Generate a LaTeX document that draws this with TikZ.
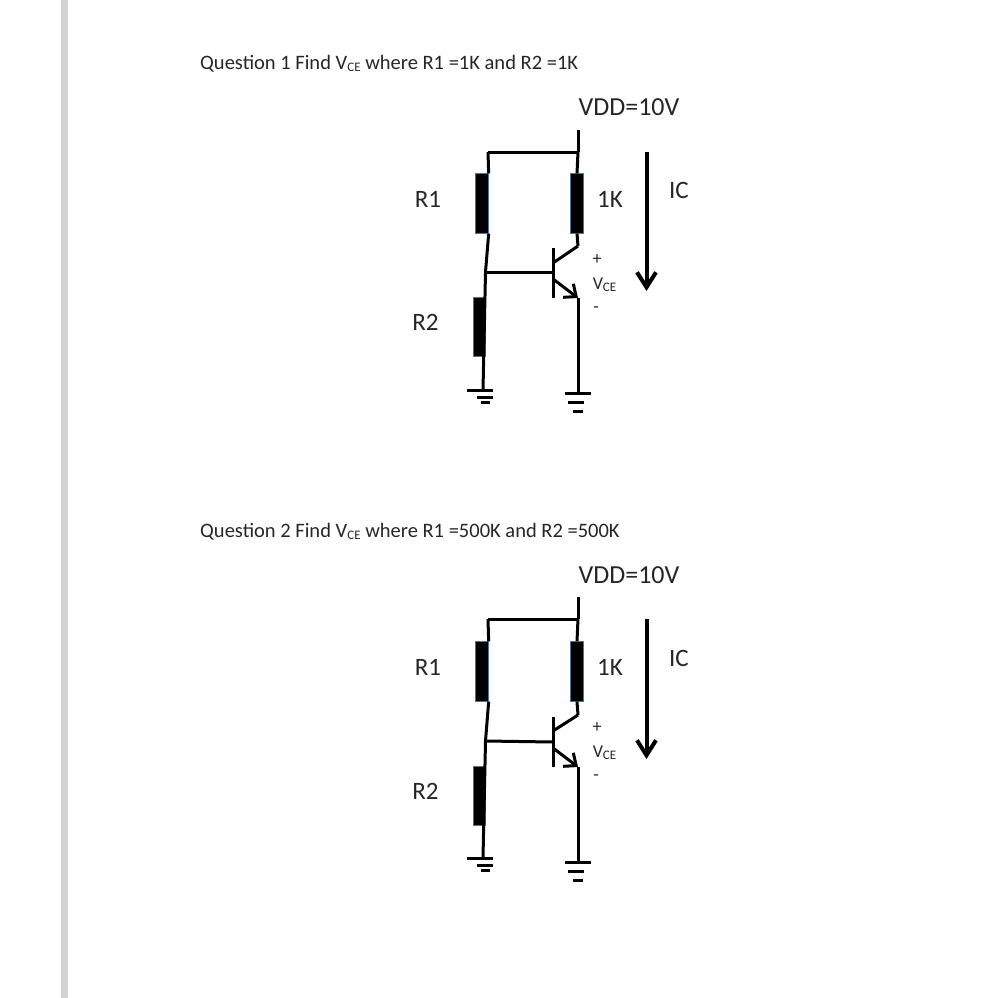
\documentclass[tikz,border=0pt]{standalone}
\usepackage{fontspec}
\setmainfont{Carlito}
\usetikzlibrary{arrows.meta,positioning}

\definecolor{resedge}{HTML}{4F7396}
\definecolor{pageedge}{HTML}{D2D2D2}

\newcommand{\vcebig}{V\raisebox{-0.12em}{\fontsize{13}{13}\selectfont CE}}
\newcommand{\vcesmall}{V\raisebox{-0.12em}{\fontsize{13}{13}\selectfont CE}}

\tikzset{
    wire/.style={line width=3pt,black},
    resbox/.style={draw=resedge,fill=black,line width=0.8pt,minimum width=12.5pt,minimum height=59.5pt,inner sep=0pt},
    question/.style={font=\fontsize{20.5}{24}\selectfont,anchor=west,inner sep=0pt,text=black!85},
    vlabel/.style={font=\fontsize{26}{30}\selectfont,inner sep=0pt,text=black!85},
    rlabel/.style={font=\fontsize{25}{28}\selectfont,inner sep=0pt,text=black!85},
    smalllabel/.style={font=\fontsize{18}{20}\selectfont,inner sep=0pt,text=black!85},
    current/.style={line width=4pt,-{Straight Barb[length=15pt,width=19pt,line width=4pt]}},
    emitter/.style={line width=3pt,-{Straight Barb[length=10pt,width=17pt,line width=3pt]}}
}

\begin{document}
\begin{tikzpicture}[x=1pt,y=-1pt]
        \useasboundingbox (0,0) rectangle (998,998);
        \fill[pageedge] (61,0) rectangle (68,998);

        % first question
        \node[question] at (200,63.5)(q1){Question 1 Find \vcebig{} where R1 =1K and R2 =1K};
        \node[vlabel] at (629,107)(vdd1){VDD=10V};
        \node[rlabel] at (428,199)(r1t1){R1};
        \node[rlabel] at (425.5,322)(r2t1){R2};
        \node[rlabel] at (610,199)(rct1){1K};
        \node[rlabel] at (679,190)(ic1){IC};
        \node[smalllabel] at (597,260)(pl1){+};
        \node[smalllabel] at (604.5,285)(vce1){\vcesmall};
        \node[smalllabel] at (596,310)(mi1){-};

        \node[resbox] at (482,203.5)(ra1){};
        \node[resbox] at (577,203.5)(rc1){};
        \node[resbox] at (479.5,327)(rb1){};

        \coordinate (vt1) at (578,130);
        \coordinate (tr1) at (578,152);
        \coordinate (tl1) at (488,152);
        \coordinate (jn1) at (485.5,272);
        \coordinate (bs1) at (553,272);
        \coordinate (bu1) at (553,248);
        \coordinate (bd1) at (553,298);
        \coordinate (cb1) at (553,263);
        \coordinate (cl1) at (578,246);
        \coordinate (eb1) at (553,279);
        \coordinate (el1) at (578,298);
        \coordinate (gr1) at (578,393);
        \coordinate (gl1) at (483,390);
        \coordinate (it1) at (646.5,152);
        \coordinate (ib1) at (646.5,291);

        \path[wire]
        (vt1)edge(tr1)
        (tr1)edge(tl1)
        (tr1)edge(rc1.north)
        (rc1.south)edge(cl1)
        (cl1)edge(cb1)
        (tl1)edge(ra1.north east)
        (ra1.south east)edge(jn1)
        (jn1)edge(bs1)
        (jn1)edge(gl1)
        (bu1)edge(bd1)
        (el1)edge(gr1)
        ;
        \draw[emitter] (eb1) -- (el1);
        \draw[current] (it1) -- (ib1);

        \draw[wire] (565,393) -- (591,393) (568,402) -- (584,402) (573,411) -- (583,411);
        \draw[wire] (467,390) -- (493,390) (477,397) -- (493,397) (481,402) -- (490,402);

        % second question
        \node[question] at (200,531.5)(q2){Question 2 Find \vcebig{} where R1 =500K and R2 =500K};
        \node[vlabel] at (629,575)(vdd2){VDD=10V};
        \node[rlabel] at (428,667)(r1t2){R1};
        \node[rlabel] at (425.5,791)(r2t2){R2};
        \node[rlabel] at (610,667)(rct2){1K};
        \node[rlabel] at (679,658)(ic2){IC};
        \node[smalllabel] at (597,728)(pl2){+};
        \node[smalllabel] at (604.5,753)(vce2){\vcesmall};
        \node[smalllabel] at (596,778)(mi2){-};

        \node[resbox] at (482,671.5)(ra2){};
        \node[resbox] at (577,671.5)(rc2){};
        \node[resbox] at (479.5,796)(rb2){};

        \coordinate (vt2) at (578,597);
        \coordinate (tr2) at (578,619);
        \coordinate (tl2) at (488,619);
        \coordinate (jn2) at (485.5,741);
        \coordinate (bs2) at (553,742);
        \coordinate (bu2) at (553,717);
        \coordinate (bd2) at (553,767);
        \coordinate (cb2) at (553,731);
        \coordinate (cl2) at (578,715);
        \coordinate (eb2) at (553,748);
        \coordinate (el2) at (578,767);
        \coordinate (gr2) at (578,862);
        \coordinate (gl2) at (483,858);
        \coordinate (it2) at (646.5,619);
        \coordinate (ib2) at (646.5,759);

        \path[wire]
        (vt2)edge(tr2)
        (tr2)edge(tl2)
        (tr2)edge(rc2.north)
        (rc2.south)edge(cl2)
        (cl2)edge(cb2)
        (tl2)edge(ra2.north east)
        (ra2.south east)edge(jn2)
        (jn2)edge(bs2)
        (jn2)edge(gl2)
        (bu2)edge(bd2)
        (el2)edge(gr2)
        ;
        \draw[emitter] (eb2) -- (el2);
        \draw[current] (it2) -- (ib2);

        \draw[wire] (565,862) -- (591,862) (568,871) -- (584,871) (573,880) -- (583,880);
        \draw[wire] (467,858) -- (493,858) (477,865) -- (493,865) (481,870) -- (490,870);
    \end{tikzpicture}
\end{document}
